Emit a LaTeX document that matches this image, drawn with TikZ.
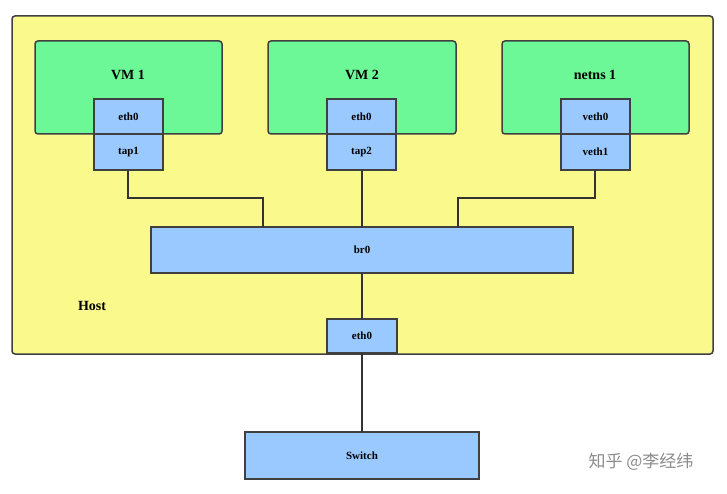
\documentclass[tikz,border=0pt]{standalone}
\usepackage{fontspec}
\setmainfont{Liberation Serif}
\newfontfamily\cjk{Noto Sans CJK SC}
\definecolor{hy}{HTML}{FAFA8C}
\definecolor{gr}{HTML}{6CF896}
\definecolor{bl}{HTML}{99C9FF}
\begin{document}
\begin{tikzpicture}[x=1pt,y=-1pt,
  host/.style={draw=black!75,fill=hy,rounded corners=3pt,line width=1.5pt},
  grn/.style={draw=black!75,fill=gr,rounded corners=3pt,line width=1.5pt},
  blu/.style={draw=black!75,fill=bl,line width=1.2pt},
  lbl/.style={font=\bfseries\fontsize{14}{16}\selectfont},
  sm/.style={font=\bfseries\fontsize{11}{13}\selectfont},
  wire/.style={draw=black!80,line width=1.5pt}]
\useasboundingbox (0,0) rectangle (727,494);
\fill[white] (0,0) rectangle (727,494);
\draw[host] (12,16) rectangle (713,354);
\node[lbl] at (92,306) {Host};
\draw[grn] (35,41) rectangle (222,134);
\draw[grn] (268,41) rectangle (456,134);
\draw[grn] (502,41) rectangle (689,134);
\node[lbl] (vm1) at (128,75) {VM 1};
\node[lbl] (vm2) at (362,75) {VM 2};
\node[lbl] (ns) at (595,75) {netns 1};
\draw[blu] (94,99) rectangle (163,134) node[midway,sm] {eth0};
\draw[blu] (94,134) rectangle (163,170) node[midway,sm] {tap1};
\draw[blu] (327,99) rectangle (396,134) node[midway,sm] {eth0};
\draw[blu] (327,134) rectangle (396,170) node[midway,sm] {tap2};
\draw[blu] (561,99) rectangle (630,134) node[midway,sm] {veth0};
\draw[blu] (561,134) rectangle (630,170) node[midway,sm] {veth1};
\coordinate (t1) at (128,170);
\coordinate (t2) at (362,170);
\coordinate (v1) at (595,170);
\draw[blu] (151,227) rectangle (573,273) node[midway,sm] {br0};
\coordinate (b1) at (263,227);
\coordinate (b2) at (362,227);
\coordinate (b3) at (458,227);
\coordinate (bb) at (362,273);
\draw[blu] (327,319) rectangle (397,353) node[midway,sm] {eth0};
\coordinate (et) at (362,319);
\coordinate (eb) at (362,353);
\draw[blu] (245,432) rectangle (479,479) node[midway,sm] {Switch};
\coordinate (sw) at (362,432);
\draw[wire] (t1) |- (263,198) -- (b1);
\draw[wire] (t2) -- (b2);
\draw[wire] (v1) |- (458,198) -- (b3);
\draw[wire] (bb) -- (et);
\draw[wire] (eb) -- (sw);
\node[text=black!45,font=\cjk\fontsize{17}{19}\selectfont] (wm) at (641,462) {知乎 @李经纬};
\end{tikzpicture}
\end{document}
